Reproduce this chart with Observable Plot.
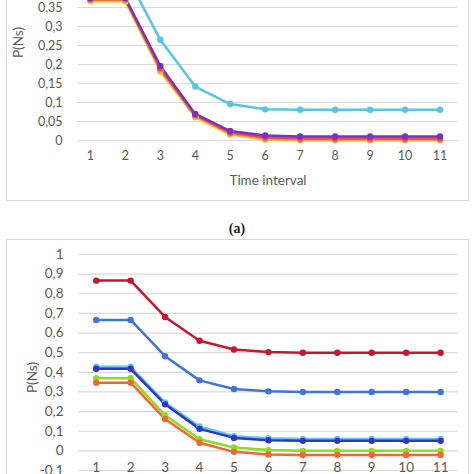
<!DOCTYPE html>
<html>
<head>
<meta charset="utf-8">
<script src="https://cdn.jsdelivr.net/npm/d3@7"></script>
<script src="https://cdn.jsdelivr.net/npm/@observablehq/plot@0.6"></script>
<style>
  html, body { margin: 0; padding: 0; background: #fff; }
  #page { position: relative; width: 474px; height: 474px; overflow: hidden; background: #fff; font-family: Lato, "Open Sans", sans-serif; }
  .box { position: absolute; border: 1.5px solid #d9d9d9; box-sizing: border-box; }
  .chart { position: absolute; left: 0; }
  #cap { position: absolute; left: 0; width: 474px; top: 221px; text-align: center; font: bold 14px "Liberation Serif", "DejaVu Serif", serif; color: #222; }
</style>
</head>
<body>
<div id="page">
  <div class="box" style="left:6px; top:-20px; width:463px; height:221px;"></div>
  <div class="box" style="left:6px; top:239px; width:463px; height:260px;"></div>
  <div id="chartA" class="chart" style="top:-60px;"></div>
  <div id="cap">(a)</div>
  <div id="chartB" class="chart" style="top:239px;"></div>
</div>
<script>
// ---- Data ----
const timeIntervals = [1, 2, 3, 4, 5, 6, 7, 8, 9, 10, 11];

// Chart (a)
const a_s1 = [0.44, 0.44, 0.265, 0.142, 0.096, 0.082, 0.081, 0.081, 0.081, 0.081, 0.081];
const a_s2 = [0.366, 0.366, 0.181, 0.061, 0.015, 0.002, 0.0, 0.0, 0.0, 0.0, 0.0];
const a_s3 = [0.369, 0.369, 0.185, 0.064, 0.018, 0.004, 0.002, 0.002, 0.002, 0.002, 0.002];
const a_s4 = [0.372, 0.372, 0.19, 0.067, 0.021, 0.008, 0.005, 0.005, 0.005, 0.005, 0.005];
const a_s5 = [0.375, 0.375, 0.196, 0.070, 0.025, 0.013, 0.0105, 0.0105, 0.0105, 0.0105, 0.0105];
const a_series = ["A1", "A2", "A3", "A4", "A5"];
const a_colors = ["#56c5e3", "#d6df45", "#f4a03c", "#e8475e", "#7a32b8"];
const a_yTicks = [0, 0.05, 0.1, 0.15, 0.2, 0.25, 0.3, 0.35];

// Chart (b)
const b_s1 = [0.867, 0.867, 0.682, 0.561, 0.516, 0.503, 0.5, 0.5, 0.5, 0.5, 0.5];
const b_s2 = [0.667, 0.667, 0.482, 0.359, 0.315, 0.303, 0.3, 0.3, 0.3, 0.3, 0.3];
const b_s3 = [0.428, 0.428, 0.246, 0.124, 0.075, 0.064, 0.061, 0.061, 0.061, 0.061, 0.061];
const b_s4 = [0.418, 0.418, 0.237, 0.112, 0.066, 0.054, 0.051, 0.051, 0.051, 0.051, 0.051];
const b_s5 = [0.37, 0.37, 0.181, 0.059, 0.017, 0.004, 0.0, 0.0, 0.0, 0.0, 0.0];
const b_s6 = [0.347, 0.347, 0.162, 0.041, -0.005, -0.018, -0.021, -0.021, -0.021, -0.021, -0.021];
const b_series = ["B1", "B2", "B3", "B4", "B5", "B6"];
const b_colors = ["#c8162e", "#3f74d6", "#5cc8ee", "#3434c4", "#8edc1e", "#f2653a"];
const b_yTicks = [-0.1, 0, 0.1, 0.2, 0.3, 0.4, 0.5, 0.6, 0.7, 0.8, 0.9, 1];

// ---- Build tidy tables ----
function tidy(names, arrays) {
  const rows = [];
  names.forEach((n, i) => arrays[i].forEach((v, j) => rows.push({series: n, t: timeIntervals[j], v})));
  return rows;
}
const dataA = tidy(a_series, [a_s1, a_s2, a_s3, a_s4, a_s5]);
const dataB = tidy(b_series, [b_s1, b_s2, b_s3, b_s4, b_s5, b_s6]);

const fmt = d => String(+d.toFixed(2)).replace(".", ",");
const txt = "#595959";

const chartA = Plot.plot({
  width: 474,
  height: 260,
  marginTop: 29,
  marginBottom: 60,
  marginLeft: 78,
  marginRight: 17,
  style: {fontFamily: "Lato, 'Open Sans', sans-serif", background: "transparent"},
  x: {domain: [0.66, 11.5]},
  y: {domain: [0, 0.45]},
  color: {domain: a_series, range: a_colors},
  marks: [
    Plot.gridY(a_yTicks, {stroke: "#d9d9d9", strokeOpacity: 1, strokeWidth: 1.2}),
    Plot.axisY(a_yTicks, {tickSize: 0, tickPadding: 16, tickFormat: fmt, fontSize: 12.5, fill: txt, label: null}),
    Plot.axisX(timeIntervals, {tickSize: 0, tickPadding: 11, fontSize: 12.5, fill: txt, label: null}),
    Plot.line(dataA, {x: "t", y: "v", z: "series", stroke: "series", strokeWidth: 2.5}),
    Plot.dot(dataA, {x: "t", y: "v", fill: "series", r: 3.2}),
    Plot.text(["Time interval"], {frameAnchor: "bottom", dy: 40, fontSize: 13.5, fill: txt, lineAnchor: "middle"}),
    Plot.text(["P(Ns)"], {frameAnchor: "top-left", dx: -60, dy: 73, rotate: -90, fontSize: 13.5, fill: txt, lineAnchor: "middle", textAnchor: "middle"})
  ]
});
document.getElementById("chartA").appendChild(chartA);

const chartB = Plot.plot({
  width: 474,
  height: 262,
  marginTop: 15,
  marginBottom: 31,
  marginLeft: 79,
  marginRight: 17,
  style: {fontFamily: "Lato, 'Open Sans', sans-serif", background: "transparent"},
  x: {domain: [0.515, 11.49]},
  y: {domain: [-0.1, 1]},
  color: {domain: b_series, range: b_colors},
  marks: [
    Plot.gridY(b_yTicks, {stroke: "#d9d9d9", strokeOpacity: 1, strokeWidth: 1.2}),
    Plot.axisY(b_yTicks, {tickSize: 0, tickPadding: 16, tickFormat: fmt, fontSize: 13.5, fill: txt, label: null}),
    Plot.axisX(timeIntervals, {tickSize: 0, tickPadding: -8, fontSize: 13.5, fill: txt, label: null}),
    Plot.line(dataB, {x: "t", y: "v", z: "series", stroke: "series", strokeWidth: 2.5}),
    Plot.dot(dataB, {x: "t", y: "v", fill: "series", r: 3.2}),
    Plot.text(["P(Ns)"], {frameAnchor: "top-left", dx: -47, dy: 123, rotate: -90, fontSize: 13.5, fill: txt, lineAnchor: "middle", textAnchor: "middle"})
  ]
});
document.getElementById("chartB").appendChild(chartB);
</script>
</body>
</html>
